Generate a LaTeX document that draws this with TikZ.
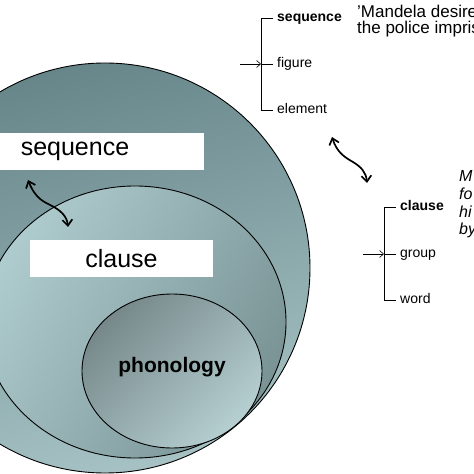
\documentclass[tikz,border=0pt]{standalone}
\usepackage{fontspec}
\setmainfont{Liberation Sans}
\usetikzlibrary{arrows.meta,positioning}

\definecolor{outerdark}{HTML}{67868A}
\definecolor{outerlight}{HTML}{A6C2C4}
\definecolor{midlight}{HTML}{AECBCD}
\definecolor{middark}{HTML}{7A9496}
\definecolor{innerdark}{HTML}{76888A}
\definecolor{innerlight}{HTML}{B6CFD1}

\tikzset{
  ring/.style={draw=black, line width=0.9pt},
  labelbox/.style={fill=white, minimum width=183pt, minimum height=37pt,
    inner sep=0pt, font=\fontsize{25}{28}\selectfont},
  rank/.style={anchor=west, inner sep=0pt, text height=10pt, text depth=3pt,
    font=\fontsize{14}{16}\selectfont},
  quote/.style={anchor=west, inner sep=0pt, font=\fontsize{17}{19}\selectfont},
  wave/.style={line width=1.7pt,
    {Straight Barb[length=6pt,width=10pt]}-{Straight Barb[length=6pt,width=10pt]}},
  feed/.style={line width=0.6pt, -{Straight Barb[length=4pt,width=7pt]}},
}

\begin{document}
\begin{tikzpicture}[x=1pt,y=1pt]
\useasboundingbox (0,0) rectangle (474,474);
\begin{scope}
  \clip (0,0) rectangle (474,474);
  % nested strata
  \path[ring, top color=outerdark, bottom color=outerlight, shading angle=15]
    (105,206) circle (205);
  \path[ring, top color=midlight, bottom color=middark, shading angle=60]
    (135,152) ellipse (151 and 136);
  \path[ring, top color=innerdark, bottom color=innerlight, shading angle=45]
    (172,103) ellipse (90 and 77);

  \node[labelbox, minimum width=258pt] (seqbox) at (75,322.5) {sequence};
  \node[labelbox] (clbox) at (121.5,215.5) {clause};
  \node[font=\fontsize{21}{24}\selectfont\bfseries] (phon) at (172,107) {phonology};

  % realisation arrows
  \coordinate (w1a) at (28,294);
  \coordinate (w1b) at (68,247);
  \draw[wave] (w1a) .. controls (36,274) and (45,272) .. (52,268)
    .. controls (60,264) and (67,258) .. (w1b);
  \coordinate (w2a) at (332,337);
  \coordinate (w2b) at (367,291);
  \draw[wave] (w2a) .. controls (337,321) and (346,316) .. (353,312)
    .. controls (361,307) and (366,302) .. (w2b);

  % upper rank scale
  \node[rank, font=\fontsize{14}{16}\selectfont\bfseries] (s1) at (277,456) {sequence};
  \node[rank] (s2) at (277,410) {figure};
  \node[rank] (s3) at (277,364) {element};
  \draw[line width=0.6pt] ([xshift=-4]s1.west) -- ++(-12,0) |- ([xshift=-4]s3.west);
  \draw[line width=0.6pt] ([xshift=-4]s2.west) -- ++(-12,0);
  \coordinate (f1) at (240,410);
  \draw[feed] (f1) -- ([xshift=-16]s2.west);

  % lower rank scale
  \node[rank, font=\fontsize{14}{16}\selectfont\bfseries] (c1) at (400,267) {clause};
  \node[rank] (c2) at (400,220) {group};
  \node[rank] (c3) at (400,174) {word};
  \draw[line width=0.6pt] ([xshift=-4]c1.west) -- ++(-12,0) |- ([xshift=-4]c3.west);
  \draw[line width=0.6pt] ([xshift=-4]c2.west) -- ++(-12,0);
  \coordinate (f2) at (363,220);
  \draw[feed] (f2) -- ([xshift=-16]c2.west);

  % quoted examples
  \node[quote] (q1) at (357,463) {'Mandela desire};
  \node[quote] (q2) at (357,445) {the police impris};
  \node[quote, font=\fontsize{16}{18}\selectfont\itshape] (m1) at (459,298) {M};
  \node[quote, font=\fontsize{16}{18}\selectfont\itshape] (m2) at (459,280) {fo};
  \node[quote, font=\fontsize{16}{18}\selectfont\itshape] (m3) at (459,262) {hi};
  \node[quote, font=\fontsize{16}{18}\selectfont\itshape] (m4) at (459,244) {by};
\end{scope}
\end{tikzpicture}
\end{document}
